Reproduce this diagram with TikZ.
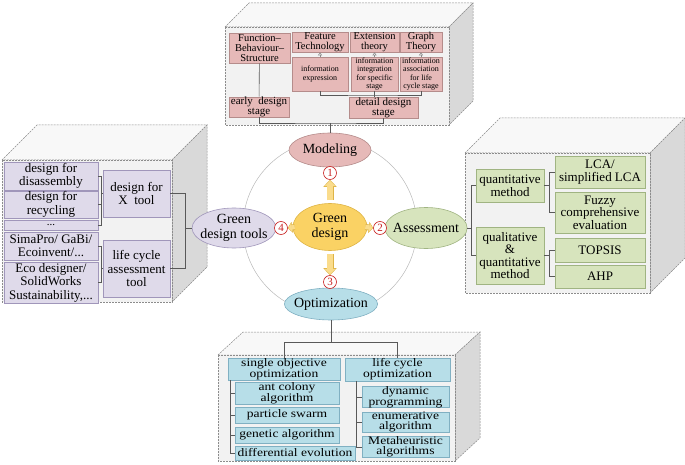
\documentclass[tikz,border=0pt]{standalone}
\usepackage{fontspec}
\setmainfont{Liberation Serif}
\newfontfamily\optfont[FakeStretch=1.18]{Liberation Serif}
\usetikzlibrary{shapes.geometric,arrows.meta}

\newcommand{\fsz}[2]{\fontsize{#1}{#2}\selectfont}
% front (x1,y1)-(x2,y2), depth (dx,dy)
\newcommand{\cubebox}[6]{%
  \filldraw[cubeln,fill=ctop] (#1,#2) -- (#1+#5,#2-#6) -- (#3+#5,#2-#6) -- (#3,#2) -- cycle;
  \filldraw[cubeln,fill=cside] (#3,#2) -- (#3+#5,#2-#6) -- (#3+#5,#4-#6) -- (#3,#4) -- cycle;
  \filldraw[cubeln,fill=cfront] (#1,#2) rectangle (#3,#4);}

\begin{document}
\begin{tikzpicture}[x=1pt,y=-1pt,
  cubeln/.style={draw=cedge,dash pattern=on 2pt off 1pt,line width=0.5pt},
  ln/.style={draw=lnc,line width=0.6pt},
  sz/.style 2 args={minimum width=#1,minimum height=#2},
  cell/.style={draw,line width=0.6pt,inner sep=0pt,align=center},
  mbox/.style={cell,fill=pinkf,draw=pinkd,font=\fsz{10.5}{9.6}},
  tbox/.style={cell,fill=lavf,draw=lavd,font=\fsz{13}{13.4}},
  abox/.style={cell,fill=grnf,draw=grnd,font=\fsz{13}{12.6}},
  obox/.style={cell,fill=bluf,draw=blud,font=\optfont\fsz{11.5}{10}},
  ell/.style={ellipse,line width=0.6pt,inner xsep=-4pt,inner ysep=0pt,align=center,font=\fsz{14}{14.5}},
  numc/.style={circle,draw=numr,text=numr,fill=white,line width=0.6pt,inner sep=0pt,minimum size=13,font=\fsz{11}{11}},
  fatout/.style={draw=ylwd,line width=7pt,-{Triangle[length=7pt,width=13pt]}},
  fatin/.style={draw=ylwa,line width=5.4pt,shorten >=0.9pt,-{Triangle[length=5.4pt,width=10.4pt]}},
  smout/.style={draw=ylwd,line width=6pt,-{Triangle[length=4.5pt,width=11pt]}},
  smin/.style={draw=ylwa,line width=4.4pt,shorten >=0.8pt,-{Triangle[length=3.2pt,width=8.6pt]}}]
  \definecolor{pinkf}{RGB}{230,185,184}
  \definecolor{pinkd}{RGB}{181,140,139}
  \definecolor{lavf}{RGB}{223,218,234}
  \definecolor{lavd}{RGB}{160,150,186}
  \definecolor{grnf}{RGB}{215,228,189}
  \definecolor{grnd}{RGB}{160,180,130}
  \definecolor{bluf}{RGB}{183,222,232}
  \definecolor{blud}{RGB}{128,176,194}
  \definecolor{ylwf}{RGB}{250,210,100}
  \definecolor{ylwd}{RGB}{222,180,70}
  \definecolor{ylwa}{RGB}{250,220,140}
  \definecolor{numr}{RGB}{200,30,30}
  \definecolor{cfront}{RGB}{242,242,242}
  \definecolor{ctop}{RGB}{248,248,248}
  \definecolor{cside}{RGB}{217,217,217}
  \definecolor{cedge}{RGB}{140,140,140}
  \definecolor{lnc}{RGB}{89,89,89}
  \useasboundingbox (0,0) rectangle (685,465);

  % the four boxes
  \cubebox{225}{27}{449}{125}{24}{24}
  \cubebox{2}{160}{172}{302}{35}{35}
  \cubebox{465}{153}{650}{293}{35}{35}
  \cubebox{218}{355}{455}{461}{25}{23}

  \draw[gray!55,line width=0.5pt] (330,227) circle (87pt);

  % modeling
  \node[mbox,sz={61}{30}] (fbs) at (259.5,48) {Function--\\Behaviour--\\Structure};
  \node[mbox,sz={56}{20}] (feat) at (320,42) {Feature\\Technology};
  \node[mbox,sz={49}{20}] (ext) at (374.5,42) {Extension\\theory};
  \node[mbox,sz={42}{20}] (graph) at (421,42) {Graph\\Theory};
  \node[mbox,sz={56}{34},font=\fsz{8}{8.3}] (infoexp) at (320,74) {information\\expression};
  \node[mbox,sz={47}{34},font=\fsz{8}{8.3}] (infoint) at (374.5,74) {information\\integration\\for specific\\stage};
  \node[mbox,sz={42}{34},font=\fsz{8}{8.3}] (infoass) at (421,74) {information\\association\\for life\\cycle stage};
  \node[mbox,sz={60}{20},font=\fsz{11}{10}] (early) at (259,107) {early\ \ design\\stage};
  \node[mbox,sz={69}{21},font=\fsz{11}{10}] (detail) at (383.5,107.5) {detail design\\stage};

  % green design tools
  \node[tbox,sz={94}{28}] (dis) at (51,176) {design for\\disassembly};
  \node[tbox,sz={94}{27}] (rec) at (51,204.5) {design for\\recycling};
  \node[tbox,sz={94}{10},font=\fsz{11}{10}] (dots) at (51,225) {...};
  \node[tbox,sz={94}{28}] (sima) at (51,246) {SimaPro/ GaBi/\\Ecoinvent/...};
  \node[tbox,sz={94}{41}] (eco) at (51,282.5) {Eco designer/\\SolidWorks\\Sustainability,...};
  \node[tbox,sz={67}{47}] (xtool) at (136.5,193.5) {design for\\X\ \ tool};
  \node[tbox,sz={67}{57}] (lcat) at (136.5,268.5) {life cycle\\assessment\\tool};

  % assessment
  \node[abox,sz={68}{33}] (quant) at (510,185.5) {quantitative\\method};
  \node[abox,sz={90}{32}] (lca) at (600,172) {LCA/\\simplified LCA};
  \node[abox,sz={90}{41}] (fuzzy) at (600,212.5) {Fuzzy\\comprehensive\\evaluation};
  \node[abox,sz={68}{57}] (qq) at (510,255.5) {qualitative\\\&\\quantitative\\method};
  \node[abox,sz={90}{24}] (topsis) at (600,250) {TOPSIS};
  \node[abox,sz={90}{23}] (ahp) at (600,276.5) {AHP};

  % optimization
  \node[obox,sz={112}{22}] (single) at (284,369) {single objective\\optimization};
  \node[obox,sz={105}{23}] (lcopt) at (397.5,369.5) {life cycle\\optimization};
  \node[obox,sz={104}{19}] (ant) at (287,393.5) {ant colony\\algorithm};
  \node[obox,sz={104}{16}] (pso) at (287,415) {particle swarm};
  \node[obox,sz={104}{16}] (ga) at (287,435) {genetic algorithm};
  \node[obox,sz={120}{14}] (diff) at (295,453) {differential evolution};
  \node[obox,sz={87}{20}] (dp) at (405.5,397) {dynamic\\programming};
  \node[obox,sz={87}{20}] (enum) at (405.5,422) {enumerative\\algorithm};
  \node[obox,sz={87}{20}] (meta) at (405.5,447) {Metaheuristic\\algorithms};

  % centre
  \node[ell,fill=pinkf,draw=pinkd,sz={82}{34}] (model) at (330,150) {Modeling};
  \node[ell,fill=ylwf,draw=ylwd,sz={74}{47}] (gd) at (330,227) {Green\\design};
  \node[ell,fill=lavf,draw=lavd,sz={82}{40}] (tools) at (234,228) {Green\\design tools};
  \node[ell,fill=grnf,draw=grnd,sz={82}{41}] (assess) at (426,228) {Assessment};
  \node[ell,fill=bluf,draw=blud,sz={90}{32}] (optim) at (331,304) {Optimization};

  \node[numc] (n1) at (330,173) {1};
  \node[numc] (n2) at (380,228) {2};
  \node[numc] (n3) at (330,282) {3};
  \node[numc] (n4) at (281,228) {4};
  \draw[fatout] ([yshift=3pt]gd.north) -- (n1.south);
  \draw[fatin] ([yshift=3pt]gd.north) -- (n1.south);
  \draw[fatout] ([yshift=-3pt]gd.south) -- (n3.north);
  \draw[fatin] ([yshift=-3pt]gd.south) -- (n3.north);
  \draw[smout] ([xshift=-2pt]gd.east) -- (n2.west);
  \draw[smin] ([xshift=-2pt]gd.east) -- (n2.west);
  \draw[smout] ([xshift=2pt]gd.west) -- (n4.east);
  \draw[smin] ([xshift=2pt]gd.west) -- (n4.east);

  % connectors, modeling
  \draw[draw=lnc!70,line width=0.5pt,-{Triangle[open,length=3pt,width=4pt]}] (infoexp.north) -- (feat.south);
  \draw[draw=lnc!70,line width=0.5pt,-{Triangle[open,length=3pt,width=4pt]}] (infoint.north) -- (ext.south);
  \draw[draw=lnc!70,line width=0.5pt,-{Triangle[open,length=3pt,width=4pt]}] (infoass.north) -- (graph.south);
  \draw[ln] (fbs) -- (early);
  \coordinate (mj1) at (374.5,95);
  \draw[ln] (infoexp.south) |- (mj1) -| (infoass.south);
  \draw[ln] (infoint.south) -- (infoint.south |- detail.north);
  \coordinate (mj2) at (330,123);
  \draw[ln] (early.south) |- (mj2) -| (detail.south);
  \draw[ln] (mj2) -- (model.north);

  % connectors, tools
  \draw[ln] (dis.east) -- ++(2.5,0) coordinate (tb1) |- (dots.east);
  \draw[ln] (rec.east) -- (rec.east -| tb1);
  \draw[ln] (xtool.west) -- (xtool.west -| tb1);
  \draw[ln] (sima.east) -- ++(2.5,0) coordinate (tb2) |- (eco.east);
  \draw[ln] (lcat.west) -- (lcat.west -| tb2);
  \draw[ln] (xtool.east) -- ++(15,0) coordinate (tb3) |- (lcat.east);
  \draw[ln] (tools.west) -- (tools.west -| tb3);

  % connectors, assessment
  \draw[ln] (quant.west) -- ++(-4,0) coordinate (ab1) |- (qq.west);
  \draw[ln] (assess.east) -- (assess.east -| ab1);
  \draw[ln] (lca.west) -- ++(-5,0) coordinate (ab2) |- (fuzzy.west);
  \draw[ln] (quant.east) -- (quant.east -| ab2);
  \draw[ln] (topsis.west) -- ++(-5,0) coordinate (ab3) |- (ahp.west);
  \draw[ln] (qq.east) -- (qq.east -| ab3);

  % connectors, optimization
  \draw[ln] (optim.south) -- ++(0,22) coordinate (ob1);
  \draw[ln] (single.north) |- (ob1) -| (lcopt.north);
  \draw[ln] (diff.west) -| ([xshift=3pt]single.south west);
  \draw[ln] (ant.west) -- ++(-4,0);
  \draw[ln] (pso.west) -- ++(-4,0);
  \draw[ln] (ga.west) -- ++(-4,0);
  \draw[ln] (meta.west) -| ([xshift=12pt]lcopt.south west);
  \draw[ln] (dp.west) -- ++(-5,0);
  \draw[ln] (enum.west) -- ++(-5,0);
\end{tikzpicture}
\end{document}
